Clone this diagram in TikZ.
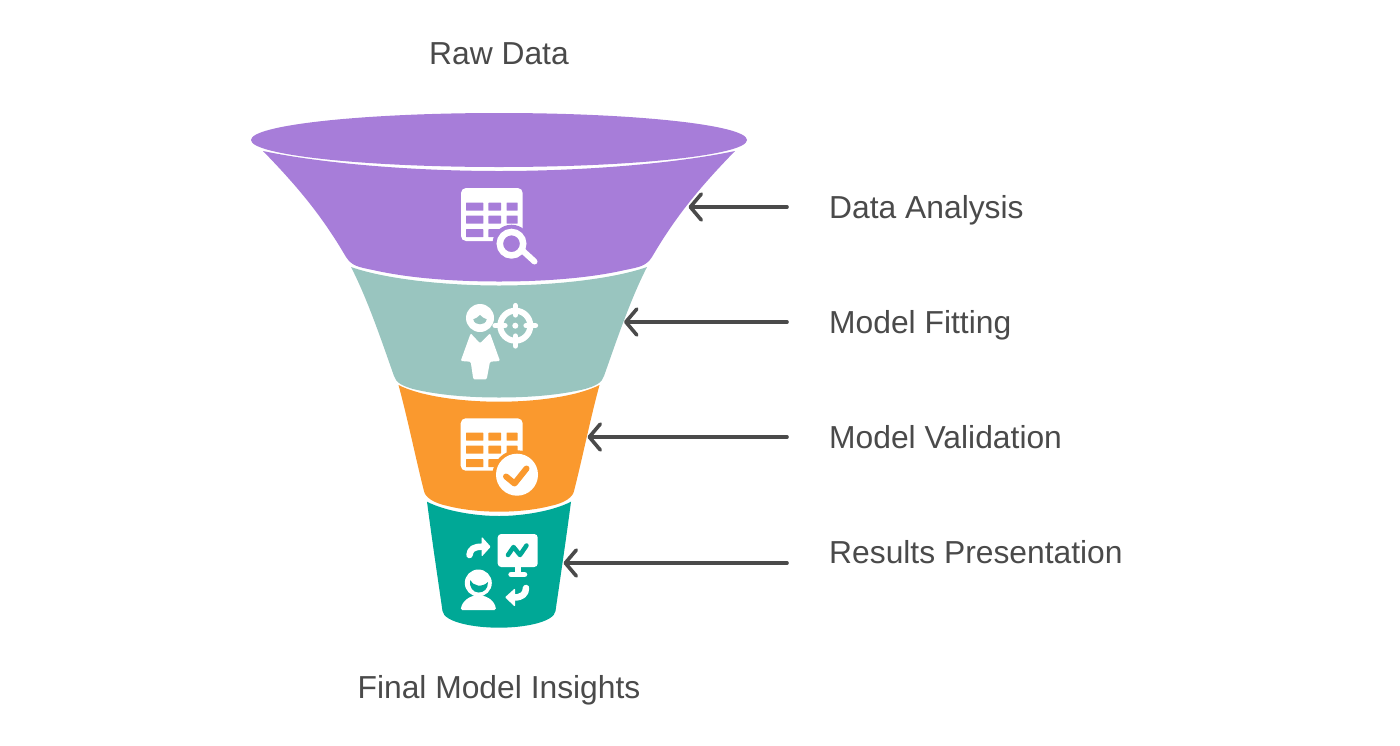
\documentclass[tikz,border=0pt]{standalone}
\usepackage{fontspec}
\setmainfont{Liberation Sans}
\usetikzlibrary{arrows.meta}
\definecolor{cpurple}{HTML}{A77DD9}
\definecolor{cgrey}{HTML}{99C5BF}
\definecolor{corange}{HTML}{FA992E}
\definecolor{cteal}{HTML}{00A896}
\definecolor{ctext}{HTML}{4A4A4A}
\tikzset{
  lab/.style={text=ctext,font=\fontsize{31.8}{34}\selectfont,inner sep=0pt},
  leftlab/.style={lab,anchor=base west},
  pointer/.style={draw=ctext,line width=3.6pt,line cap=round,-{Straight Barb[length=11pt,width=26pt,line width=3.6pt,round]}},
  ico/.style={fill=white,draw=none},
  wline/.style={draw=white,line cap=round,line join=round},
}
\newcommand{\tablecells}[2]{% #1 colour, #2 top of the first row
  \fill[#1,rounded corners=0.5pt]
    (466,#2) rectangle ++(17.3,8) (488.3,#2) rectangle ++(12.7,8) (506.5,#2) rectangle ++(11.2,8)
    (466,#2+13) rectangle ++(17.3,8) (488.3,#2+13) rectangle ++(12.7,8) (506.5,#2+13) rectangle ++(11.2,8)
    (466,#2+26.5) rectangle ++(17.3,8) (488.3,#2+26.5) rectangle ++(12.7,8);
}
\begin{document}
\begin{tikzpicture}[x=1pt,y=-1pt]
\useasboundingbox (0,0) rectangle (1400,745);
% funnel
\fill[cpurple] (251,140) arc[x radius=248,y radius=27,start angle=180,end angle=-180];
\fill[cpurple] (263,151) .. controls (320,163) and (410,171) .. (499,171)
  .. controls (588,171) and (678,163) .. (735,151)
  .. controls (703,184) and (677,214) .. (652,257)
  .. controls (646,266) and (640,267) .. (625,270)
  .. controls (590,278) and (545,281.5) .. (499,281.5)
  .. controls (453,281.5) and (408,278) .. (373,270)
  .. controls (358,267) and (352,266) .. (346,257)
  .. controls (321,214) and (295,184) .. (263,151) -- cycle;
\fill[cgrey] (351,267) .. controls (385,279) and (445,285.5) .. (499,285.5)
  .. controls (553,285.5) and (613,279) .. (647,267)
  .. controls (630,300) and (615,345) .. (604,376)
  .. controls (602,383) and (595,386) .. (585,389)
  .. controls (560,395) and (530,397.5) .. (499,397.5)
  .. controls (468,397.5) and (438,395) .. (413,389)
  .. controls (403,386) and (396,383) .. (394,376)
  .. controls (383,345) and (368,300) .. (351,267) -- cycle;
\fill[corange] (398.5,385) .. controls (420,396) and (460,401.7) .. (499,401.7)
  .. controls (538,401.7) and (578,396) .. (599.5,385)
  .. controls (590,420) and (582,460) .. (574,491)
  .. controls (573,497) and (565,503) .. (550,506)
  .. controls (535,510) and (515,511.7) .. (499,511.7)
  .. controls (483,511.7) and (463,510) .. (448,506)
  .. controls (433,503) and (425,497) .. (424,491)
  .. controls (416,460) and (408,420) .. (398.5,385) -- cycle;
\fill[cteal] (427,501.7) .. controls (445,511) and (475,516) .. (499,516)
  .. controls (523,516) and (553,511) .. (571,501.7)
  .. controls (566,540) and (560,580) .. (555.5,611)
  .. controls (554,622) and (525,627.7) .. (499,627.7)
  .. controls (473,627.7) and (444,622) .. (442.5,611)
  .. controls (438,580) and (432,540) .. (427,501.7) -- cycle;
% icon 1: table and magnifier
\fill[ico,rounded corners=5pt] (461,188) rectangle (522.7,241);
\tablecells{cpurple}{202.7}
\fill[cpurple] (511.5,243.7) circle[radius=19];
\draw[draw=white,line width=6.5pt] (511.5,243.7) circle[radius=11.7];
\draw[wline,line width=6pt] (523,251) -- (534.5,261.5);
% icon 2: person and target
\fill[ico] (480,318) circle[radius=14];
\fill[cgrey] (473.3,319.3) .. controls (476,318.5) and (478,317) .. (480,315)
  .. controls (482,317) and (484,318.5) .. (486.7,319.3)
  .. controls (486,323) and (483,324.3) .. (480,324.3)
  .. controls (477,324.3) and (474,323) .. (473.3,319.3) -- cycle;
\fill[ico,rounded corners=1.2pt] (460.7,361) -- (470.7,333.3) -- (480,343.3) -- (490,333.3) -- (500,361)
  -- (490,361.7) -- (486.7,379.3) -- (473.3,379.3) -- (470.7,361.7) -- cycle;
\draw[draw=white,line width=6pt] (515.3,325.7) circle[radius=15];
\draw[wline,line width=5.2pt] (515.3,305.5) -- (515.3,315) (515.3,336) -- (515.3,346)
  (495,325.7) -- (505,325.7) (526,325.7) -- (535.5,325.7);
\fill[ico] (515.3,325.7) circle[radius=3];
% icon 3: table and tick
\fill[ico,rounded corners=5pt] (460.7,418.3) rectangle (522.7,470.7);
\tablecells{corange}{432.7}
\fill[corange] (517,474.7) circle[radius=24.5];
\fill[ico] (517,474.7) circle[radius=21];
\draw[draw=corange,line width=6pt,line cap=round,line join=round] (506,476.5) -- (514.5,483.5) -- (526.5,468.5);
% icon 4: people, monitor, arrows
\fill[ico,rounded corners=3.5pt] (497.7,534) rectangle (537.7,567);
\fill[ico] (515,566) rectangle (521,574);
\draw[wline,line width=5.6pt] (511.1,574.5) -- (524.5,574.5);
\draw[draw=cteal,line width=4.5pt,line cap=round,line join=round] (508,555) -- (513.5,547) -- (520,555) -- (526.5,545.5);
\fill[ico] (478.3,583) circle[radius=13.5];
\fill[cteal] (470,580) .. controls (473,586) and (482,588) .. (488,582)
  .. controls (488,589) and (484,592.5) .. (478.5,592.5)
  .. controls (473,592.5) and (469,587) .. (470,580) -- cycle;
\fill[ico,rounded corners=1.5pt] (460.7,610) .. controls (462,601) and (470,595.5) .. (478.3,595.5)
  .. controls (487,595.5) and (495,601) .. (496,610) -- cycle;
\draw[wline,line width=6.5pt] (469.5,555) .. controls (470,549) and (474,546.7) .. (482,546.7);
\fill[ico,rounded corners=1pt] (481.7,536.7) -- (490.7,546.7) -- (481.7,556.7) -- cycle;
\draw[wline,line width=6.5pt] (526,588) .. controls (526,594) and (522,597.5) .. (514,597.5);
\fill[ico,rounded corners=1pt] (515,588.3) -- (505,597.3) -- (515,606.7) -- cycle;
% labels
\node[lab,anchor=base] (raw) at (499,64) {Raw Data};
\node[lab,anchor=base] (final) at (499,698) {Final Model Insights};
\node[leftlab] (l1) at (829,218) {Data Analysis};
\node[leftlab] (l2) at (829,333) {Model Fitting};
\node[leftlab] (l3) at (829,448) {Model Validation};
\node[leftlab] (l4) at (829,563) {Results Presentation};
% connectors
\coordinate (a1s) at (787,207); \coordinate (a1e) at (688.5,207);
\coordinate (a2s) at (787,322); \coordinate (a2e) at (624,322);
\coordinate (a3s) at (787,437); \coordinate (a3e) at (587.5,437);
\coordinate (a4s) at (787,563); \coordinate (a4e) at (563.5,563);
\draw[pointer] (a1s) -- (a1e);
\draw[pointer] (a2s) -- (a2e);
\draw[pointer] (a3s) -- (a3e);
\draw[pointer] (a4s) -- (a4e);
\end{tikzpicture}
\end{document}
